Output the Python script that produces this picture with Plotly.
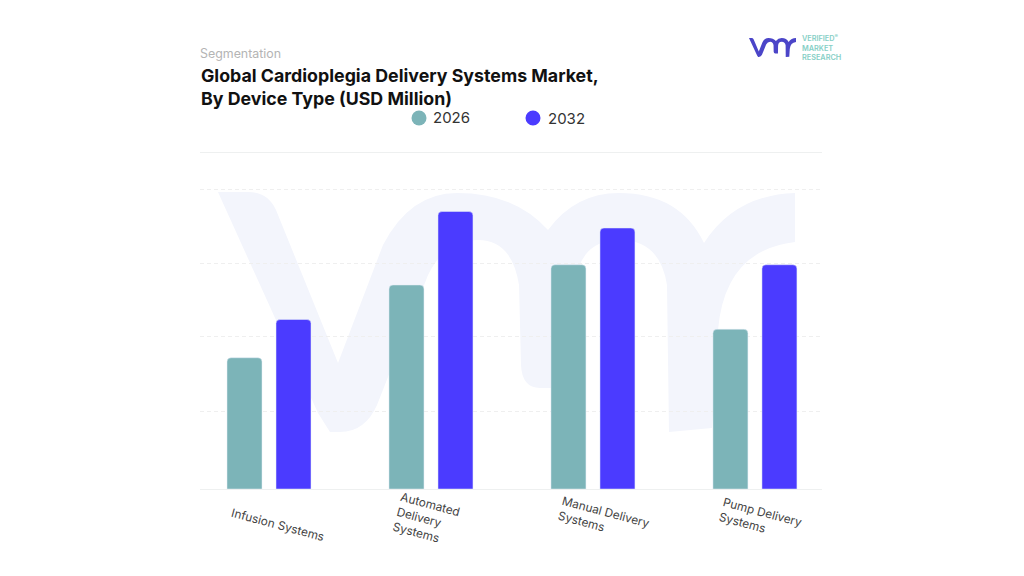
import plotly.graph_objects as go

# values, no y axis labels in the original so units are relative
categories = ['Infusion Systems', 'Automated Delivery Systems', 'Manual Delivery Systems', 'Pump Delivery Systems']
values_2026 = [1.75, 2.72, 2.99, 2.13]
values_2032 = [2.26, 3.70, 3.48, 2.99]
tick_labels = ['Infusion Systems', 'Automated<br>Delivery<br>Systems', 'Manual Delivery<br>Systems', 'Pump Delivery<br>Systems']
label_pos = [(278, 525), (426, 519), (604, 519), (760, 519)]
grid_vals = [1.027, 2.027, 3.013, 4.0]

TEAL = '#7CB4B8'
BLUE = '#4B3BFF'

W, H = 1024, 576
LEFT, RIGHT, TOP, BOTTOM = 200, 822, 153, 489

# watermark / logo outline in page pixels: (x, y) is a line, (cx, cy, x, y) a quadratic curve
logo_outline = [
    (218, 192), (248, 192), (268, 192, 276, 210), (338, 363), (383, 245), (410, 193, 457, 193),
    (515, 193, 548, 230), (575, 193, 619, 193), (680, 193, 704, 243), (735, 195, 795, 193),
    (795, 242), (725, 250, 718, 330), (712, 428), (669, 432), (667, 285), (660, 240, 620, 240),
    (577, 240, 575, 290), (573, 388), (540, 388), (522, 388, 521, 365), (519, 285), (512, 240, 478, 240),
    (445, 240, 428, 275), (377, 405), (365, 432, 340, 432), (330, 432), (318, 413),
]


def px_x(x):
    return (x - LEFT) / (RIGHT - LEFT)


def px_y(y):
    return (BOTTOM - y) / (BOTTOM - TOP)


def logo_path(scale_x=1.0, scale_y=1.0, dx=0.0, dy=0.0):
    def pt(x, y):
        return f'{px_x(x * scale_x + dx):.4f},{px_y(y * scale_y + dy):.4f}'

    parts = []
    for i, seg in enumerate(logo_outline):
        if len(seg) == 2:
            parts.append(('M ' if i == 0 else 'L ') + pt(*seg))
        else:
            parts.append('Q ' + pt(seg[0], seg[1]) + ' ' + pt(seg[2], seg[3]))
    return ' '.join(parts) + ' Z'


fig = go.Figure()

fig.add_trace(go.Bar(x=list(range(4)), y=values_2026, name='2026', marker=dict(color=TEAL, cornerradius=4)))
fig.add_trace(go.Bar(x=list(range(4)), y=values_2032, name='2032', marker=dict(color=BLUE, cornerradius=4)))

annotations = [
    dict(text='Segmentation', xref='paper', yref='paper', x=px_x(198), y=px_y(54), xanchor='left', yanchor='middle',
         showarrow=False, font=dict(family='Inter', size=12.4, color='#B4B4B4')),
    dict(text='VERIFIED<sup>®</sup><br>MARKET<br>RESEARCH', xref='paper', yref='paper', x=px_x(800), y=px_y(47.5),
         xanchor='left', yanchor='middle', align='left', showarrow=False,
         font=dict(family='Inter', size=7.3, color='#86CFC6', weight=600)),
    dict(text='2026', xref='paper', yref='paper', x=px_x(431), y=px_y(118), xanchor='left', yanchor='middle',
         showarrow=False, font=dict(family='Inter', size=15, color='#333333')),
    dict(text='2032', xref='paper', yref='paper', x=px_x(546), y=px_y(118.5), xanchor='left', yanchor='middle',
         showarrow=False, font=dict(family='Inter', size=15, color='#333333')),
]
for text, (lx, ly) in zip(tick_labels, label_pos):
    annotations.append(dict(text=text, xref='paper', yref='paper', x=px_x(lx), y=px_y(ly), xanchor='center',
                            yanchor='middle', align='left', textangle=15, showarrow=False,
                            font=dict(family='Inter', size=11.8, color='#444444')))

fig.update_layout(
    width=W, height=H,
    margin=dict(l=LEFT, r=W - RIGHT, t=TOP, b=H - BOTTOM, pad=0),
    paper_bgcolor='white', plot_bgcolor='rgba(0,0,0,0)',
    barmode='group', bargap=0.395, bargroupgap=0.286,
    title=dict(text='Global Cardioplegia Delivery Systems Market,<br>By Device Type (USD Million)',
               x=201 / W, y=1 - 81.5 / H, xanchor='left', yanchor='middle',
               font=dict(family='Inter', size=17.8, color='#111111', weight=700)),
    annotations=annotations,
    shapes=[
        dict(type='path', path=logo_path(), xref='paper', yref='paper', layer='below',
             fillcolor='#F3F5FC', line=dict(width=0)),
        dict(type='path', path=logo_path(0.0815, 0.079, 749 - 218 * 0.0815, 38 - 192 * 0.079), xref='paper', yref='paper',
             fillcolor='#4B45C8', line=dict(width=0)),
        # legend dots
        dict(type='circle', xref='paper', yref='paper', x0=px_x(411.5), x1=px_x(426.5), y0=px_y(125.5), y1=px_y(110.5),
             fillcolor=TEAL, line=dict(width=0)),
        dict(type='circle', xref='paper', yref='paper', x0=px_x(525.5), x1=px_x(540.5), y0=px_y(125.5), y1=px_y(110.5),
             fillcolor=BLUE, line=dict(width=0)),
    ],
    showlegend=False,
)

fig.update_xaxes(range=[-0.426, 3.414], showticklabels=False, ticks='', showgrid=False, zeroline=False,
                 showline=True, mirror=True, linecolor='#EEF0F0', linewidth=1)
fig.update_yaxes(range=[0, 4.48], tickvals=grid_vals, showticklabels=False, ticks='', showgrid=True,
                 gridcolor='#EFEFEF', griddash='4px,3px', gridwidth=1, zeroline=False, showline=False)

# page margin would push the chart 8px off
fig.write_html('out.html', config=dict(displayModeBar=False), post_script="document.body.style.margin='0';")
